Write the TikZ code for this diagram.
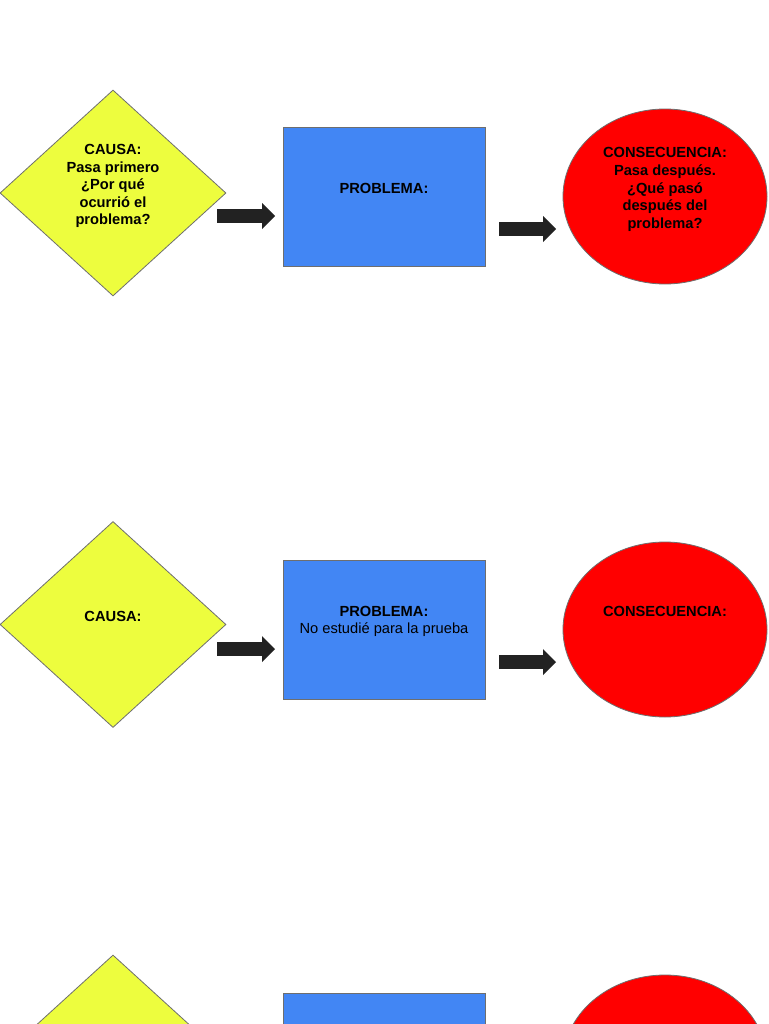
\documentclass[tikz,border=0pt]{standalone}
\usepackage{fontspec}
\setmainfont{Liberation Sans}
\usetikzlibrary{shapes.geometric,arrows.meta}
\definecolor{causeyellow}{RGB}{237,253,62}
\definecolor{probblue}{RGB}{66,134,244}
\definecolor{consred}{RGB}{255,0,0}
\definecolor{edgegray}{RGB}{110,110,110}
\definecolor{arrowdark}{RGB}{34,34,34}
\tikzset{
  causeshape/.style={draw=edgegray, line width=0.6pt, fill=causeyellow, shape=diamond, inner sep=0pt, minimum width=169.5pt, minimum height=154.5pt},
  probshape/.style={draw=edgegray, line width=0.6pt, fill=probblue, rectangle, inner sep=0pt, minimum width=151.5pt, minimum height=104.25pt},
  consshape/.style={draw=edgegray, line width=0.6pt, fill=consred, ellipse, inner sep=0pt, minimum width=153pt, minimum height=131.25pt},
  txt/.style={align=center, inner sep=0pt, text=black, font=\fontsize{11}{13.2}\selectfont},
  btxt/.style={txt, font=\fontsize{11}{13.2}\selectfont\bfseries},
  blockarrow/.style={draw=arrowdark, line width=10.5pt, line cap=butt, -{Triangle[length=9.75pt, width=19.5pt, line width=0pt]}}
}
\begin{document}
\begin{tikzpicture}[x=0.75pt, y=-0.75pt]
\useasboundingbox (0,0) rectangle (768,1024);
\clip (0,0) rectangle (768,1024);
\fill[white] (0,0) rectangle (768,1024);

% Row 1
\node[causeshape] (c1) at (113,193) {};
\node[probshape] (p1) at (384,196.5) {};
\node[consshape] (q1) at (665,196.5) {};
\node[btxt] (c1t) at (113,186) {CAUSA:\\Pasa primero\\¿Por qué\\ocurrió el\\problema?};
\node[btxt] (p1t) at (384,188) {PROBLEMA:};
\node[btxt] (q1t) at (665,189.5) {CONSECUENCIA:\\Pasa después.\\¿Qué pasó\\después del\\problema?};
\coordinate (a1s) at (217,216);
\coordinate (a1e) at (275,216);
\coordinate (a2s) at (499,229);
\coordinate (a2e) at (556,229);
\draw[blockarrow] (a1s) -- (a1e);
\draw[blockarrow] (a2s) -- (a2e);

% Row 2
\node[causeshape] (c2) at (113,624.5) {};
\node[probshape] (p2) at (384,629.5) {};
\node[consshape] (q2) at (665,629.5) {};
\node[btxt] (c2t) at (113,616) {CAUSA:};
\node[btxt] (p2t) at (384,611) {PROBLEMA:};
\node[txt] (p2u) at (384,630) {No estudié para la prueba};
\node[btxt] (q2t) at (665,611) {CONSECUENCIA:};
\coordinate (b1s) at (217,649);
\coordinate (b1e) at (275,649);
\coordinate (b2s) at (499,662);
\coordinate (b2e) at (556,662);
\draw[blockarrow] (b1s) -- (b1e);
\draw[blockarrow] (b2s) -- (b2e);

% Row 3 (cut off by the page)
\node[causeshape] (c3) at (113,1058) {};
\node[probshape] (p3) at (384,1062.5) {};
\node[consshape] (q3) at (665,1062.5) {};
\end{tikzpicture}
\end{document}
